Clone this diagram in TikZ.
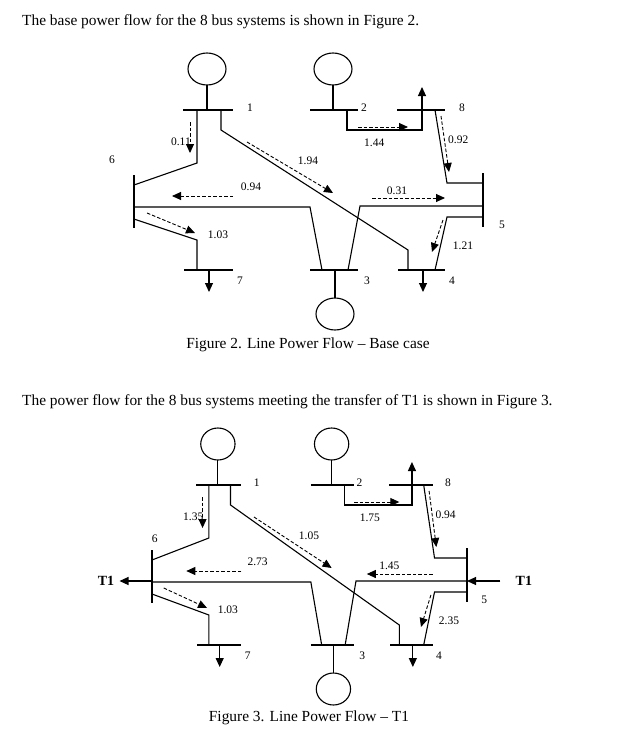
\documentclass[tikz,border=0pt]{standalone}
\usepackage{fontspec}
\setmainfont{Liberation Serif}
\usetikzlibrary{arrows.meta}
\tikzset{
  ln/.style={line width=1.1pt},
  busbar/.style={line width=2pt},
  flow/.style={line width=0.9pt,dash pattern=on 3.5pt off 2pt,-{Triangle[length=9pt,width=8pt]}},
  load/.style={line width=1.1pt,-{Triangle[length=9pt,width=8pt]}},
  lab/.style={font=\fontsize{11.5}{13}\selectfont,inner sep=0pt},
  gen/.style={line width=1.1pt},
  txt/.style={inner sep=0pt,font=\fontsize{15.4}{18}\selectfont},
}
\newcommand\busdiag[9]{%
  \draw[gen] (207,69) ellipse [x radius=19,y radius=16];
  \draw[gen] (333,69) ellipse [x radius=19,y radius=16];
  \draw[gen] (335,314) ellipse [x radius=19,y radius=16];
  \draw[ln] (207,85)--(207,110);
  \draw[ln] (333,85)--(333,110);
  \draw[ln] (335,270)--(335,298);
  \draw[busbar] (183,110)--(233,110);
  \draw[busbar] (310,110)--(358,110);
  \draw[busbar] (397,110)--(445,110);
  \draw[busbar] (310,270)--(358,270);
  \draw[busbar] (398,270)--(445,270);
  \draw[busbar] (184,270)--(233,270);
  \draw[busbar] (134,175)--(134,228);
  \draw[busbar] (483,173)--(483,227);
  \node[lab] at (250,108) {1};
  \node[lab] at (364,108) {2};
  \node[lab] at (462,108) {8};
  \node[lab] at (367,281) {3};
  \node[lab] at (452,281) {4};
  \node[lab] at (240,281) {7};
  \node[lab] at (502,225) {5};
  \ifnum#9=0 \node[lab] at (112,160) {6};\else \node[lab] at (137,164) {6};\fi
  \draw[ln] (347,110)--(347,130)--(422,130)--(422,110);
  \draw[load] (422,110)--(422,87);
  \draw[ln] (435,110)--(447,183)--(483,183);
  \draw[ln] (197,110)--(197,163)--(134,185);
  \draw[ln] (221,110)--(221,130)--(408,250)--(408,270);
  \draw[ln] (134,207)--(310,207)--(322,270);
  \draw[ln] (348,270)--(360,206)--(483,206);
  \draw[ln] (483,217)--(447,217)--(435,270);
  \draw[ln] (134,219)--(197,240)--(197,270);
  \draw[load] (423,270)--(423,292);
  \draw[load] (209,270)--(209,292);
  \draw[flow] (358,127)--(408,127);
  \node[lab,anchor=west] at (364,143) {#2};
  \draw[flow] (441,116)--(449,172);
  \node[lab,anchor=west] at (448,140) {#3};
  \draw[flow] (190,122)--(190,153);
  \node[lab,anchor=east] at (191,142) {#1};
  \draw[flow] (247,142)--(333,193);
  \node[lab] at (308,161) {#4};
  \draw[flow] (233,196)--(172,196);
  \node[lab] at (251,187) {#5};
  \ifnum#9=0 \draw[flow] (372,198)--(445,198);\else \draw[flow] (445,199)--(372,199);\fi
  \node[lab] at (397,191) {#6};
  \draw[flow] (147,213)--(195,233);
  \node[lab] at (218,235) {#7};
  \draw[flow] (443,220)--(432,252);
  \node[lab] at (463,246) {#8};
}
\begin{document}
\begin{tikzpicture}[x=1pt,y=-1pt]
\useasboundingbox (0,0) rectangle (619,745);
\node[txt,anchor=west] (h1) at (22,22) {The base power flow for the 8 bus systems is shown in Figure 2.};
\busdiag{0.11}{1.44}{0.92}{1.94}{0.94}{0.31}{1.03}{1.21}{0}
\node[txt] (c1) at (308,345) {Figure 2. Line Power Flow – Base case};
\node[txt,anchor=west] (h2) at (22,402) {The power flow for the 8 bus systems meeting the transfer of T1 is shown in Figure 3.};
\begin{scope}[shift={(152,375)},xscale=0.9026,shift={(-134,0)}]
\busdiag{1.35}{1.75}{0.94}{1.05}{2.73}{1.45}{1.03}{2.35}{1}
\coordinate (b6) at (134,206);
\coordinate (t1l) at (98,206);
\coordinate (b5) at (483,206);
\coordinate (t1r) at (520,206);
\draw[load] (b6)--(t1l);
\draw[load] (t1r)--(b5);
\node[font=\bfseries\fontsize{14}{16}\selectfont,inner sep=0pt] (T1a) at (83,206) {T1};
\node[font=\bfseries\fontsize{14}{16}\selectfont,inner sep=0pt] (T1b) at (546,206) {T1};
\end{scope}
\node[txt] (c2) at (309,718) {Figure 3. Line Power Flow – T1};
\end{tikzpicture}
\end{document}
